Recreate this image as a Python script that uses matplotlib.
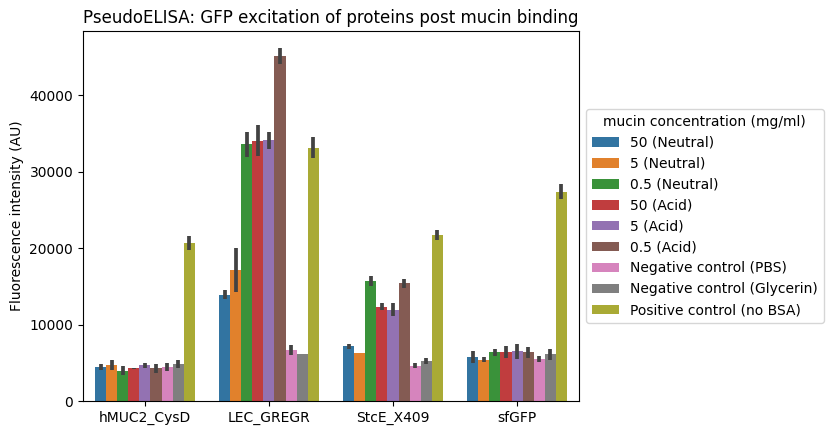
import matplotlib
matplotlib.use('Agg')
import matplotlib.pyplot as plt
import numpy as np

proteins = ['hMUC2_CysD', 'LEC_GREGR', 'StcE_X409', 'sfGFP']
conditions = ['50 (Neutral)', '5 (Neutral)', '0.5 (Neutral)', '50 (Acid)', '5 (Acid)',
              '0.5 (Acid)', 'Negative control (PBS)', 'Negative control (Glycerin)',
              'Positive control (no BSA)']

# mean fluorescence per condition, one list per protein
means = {
    'hMUC2_CysD': [4440, 4700, 3920, 4310, 4700, 4310, 4440, 4840, 20650],
    'LEC_GREGR':  [13860, 17120, 33590, 33990, 34120, 45100, 6670, 6140, 33070],
    'StcE_X409':  [7190, 6270, 15690, 12290, 11900, 15420, 4580, 5230, 21700],
    'sfGFP':      [5750, 5360, 6400, 6400, 6540, 6400, 5490, 6140, 27320],
}
# lower / upper ends of the confidence intervals
ci_low = {
    'hMUC2_CysD': [4100, 4100, 3440, 4250, 4310, 3660, 3960, 4310, 19740],
    'LEC_GREGR':  [13330, 14290, 31930, 32070, 32980, 44090, 6050, 6100, 31810],
    'StcE_X409':  [6800, 6250, 15030, 11900, 11110, 14770, 4310, 4840, 21050],
    'sfGFP':      [4970, 5100, 5880, 5620, 5490, 5620, 5100, 5360, 26400],
}
ci_high = {
    'hMUC2_CysD': [4840, 5360, 4580, 4370, 4970, 4840, 4970, 5360, 21570],
    'LEC_GREGR':  [14510, 20000, 35160, 36080, 35160, 46140, 7320, 6180, 34510],
    'StcE_X409':  [7450, 6290, 16340, 12810, 12810, 15950, 4970, 5620, 22350],
    'sfGFP':      [6540, 5750, 6800, 7190, 7450, 7060, 5880, 6800, 28370],
}

# seaborn-style muted palette
colors = ['#3274a1', '#e1812c', '#3a923a', '#c03d3e', '#9372b2',
          '#845b53', '#d684bd', '#7f7f7f', '#a9aa35']

fig = plt.figure(figsize=(8.33, 4.29), dpi=100)
ax = fig.add_axes([0.0996, 0.065, 0.5955, 0.863])

n = len(conditions)
width = 0.8 / n
x = np.arange(len(proteins))
for i, cond in enumerate(conditions):
    pos = x - 0.4 + width * (i + 0.5)
    m = np.array([means[p][i] for p in proteins])
    lo = np.array([ci_low[p][i] for p in proteins])
    hi = np.array([ci_high[p][i] for p in proteins])
    ax.bar(pos, m, width, color=colors[i], label=cond)
    ax.vlines(pos, lo, hi, color='#424242', linewidth=2.7)

ax.set_xticks(x)
ax.set_xticklabels(proteins)
ax.set_xlim(-0.5, 3.5)
ax.set_ylim(0, 48400)
ax.set_ylabel('Fluorescence intensity (AU)')
ax.set_title('PseudoELISA: GFP excitation of proteins post mucin binding')
ax.legend(title='mucin concentration (mg/ml)', loc='center left', bbox_to_anchor=(1, 0.5))

fig.savefig('out.png', dpi=100)
